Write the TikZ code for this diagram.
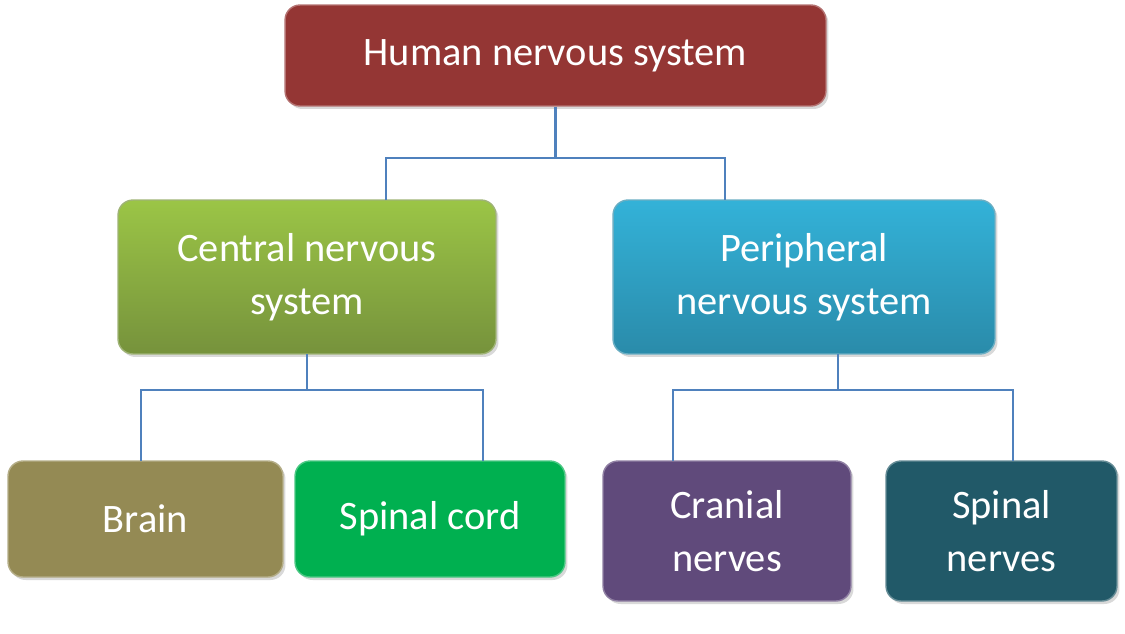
\documentclass[tikz,border=0pt]{standalone}
\usepackage{fontspec}
\setmainfont{Carlito}
\usetikzlibrary{shadows}
\definecolor{topred}{HTML}{943634}
\definecolor{cnsA}{HTML}{9BC546}
\definecolor{cnsB}{HTML}{76923C}
\definecolor{pnsA}{HTML}{33B2D8}
\definecolor{pnsB}{HTML}{2A8BAA}
\definecolor{brainc}{HTML}{948A54}
\definecolor{spinc}{HTML}{00B050}
\definecolor{cranc}{HTML}{604A7B}
\definecolor{snc}{HTML}{215968}
\definecolor{linkc}{HTML}{4F81BD}
\begin{document}
\begin{tikzpicture}[x=0.02cm,y=-0.02cm,
  box/.style={rounded corners=0.3cm, draw=#1!70!white, line width=0.8pt,
    text=white, align=center, inner sep=0pt,
    font=\fontsize{23}{30}\selectfont,
    drop shadow={shadow xshift=0.05cm, shadow yshift=-0.06cm, opacity=0.3}},
  link/.style={draw=linkc, line width=1.2pt}]
\useasboundingbox (0,0) rectangle (1125,633);
\node[box=topred, fill=topred, minimum width=10.82cm, minimum height=2.02cm] (top) at (555.5,55.5) {Human nervous system};
\node[box=cnsB, top color=cnsA, bottom color=cnsB, minimum width=7.56cm, minimum height=3.08cm] (cns) at (307,277) {Central nervous\\system};
\node[box=pnsB, top color=pnsA, bottom color=pnsB, minimum width=7.64cm, minimum height=3.08cm] (pns) at (804,277) {Peripheral\\nervous system};
\node[box=brainc, fill=brainc, minimum width=5.5cm, minimum height=2.32cm] (brain) at (145.5,519) {Brain};
\node[box=spinc, fill=spinc, minimum width=5.4cm, minimum height=2.32cm] (spine) at (430,519) {Spinal cord};
\node[box=cranc, fill=cranc, minimum width=4.96cm, minimum height=2.8cm] (cran) at (727,531) {Cranial\\nerves};
\node[box=snc, fill=snc, minimum width=4.62cm, minimum height=2.8cm] (sn) at (1001.5,531) {Spinal\\nerves};
% junction points
\coordinate (cnsin) at (386,200);
\coordinate (pnsin) at (725,200);
\coordinate (brainin) at (141,461);
\coordinate (spinein) at (483,461);
\coordinate (cranin) at (673,461);
\coordinate (snin) at (1013,461);
\coordinate (cnsout) at (307,354);
\coordinate (pnsout) at (838,354);
\draw[link] (top.south) -- ++(0,51) coordinate (j1);
\draw[link] (cnsin) |- (j1) -| (pnsin);
\draw[link] (cnsout) -- ++(0,36) coordinate (j2);
\draw[link] (brainin) |- (j2) -| (spinein);
\draw[link] (pnsout) -- ++(0,36) coordinate (j3);
\draw[link] (cranin) |- (j3) -| (snin);
\end{tikzpicture}
\end{document}
